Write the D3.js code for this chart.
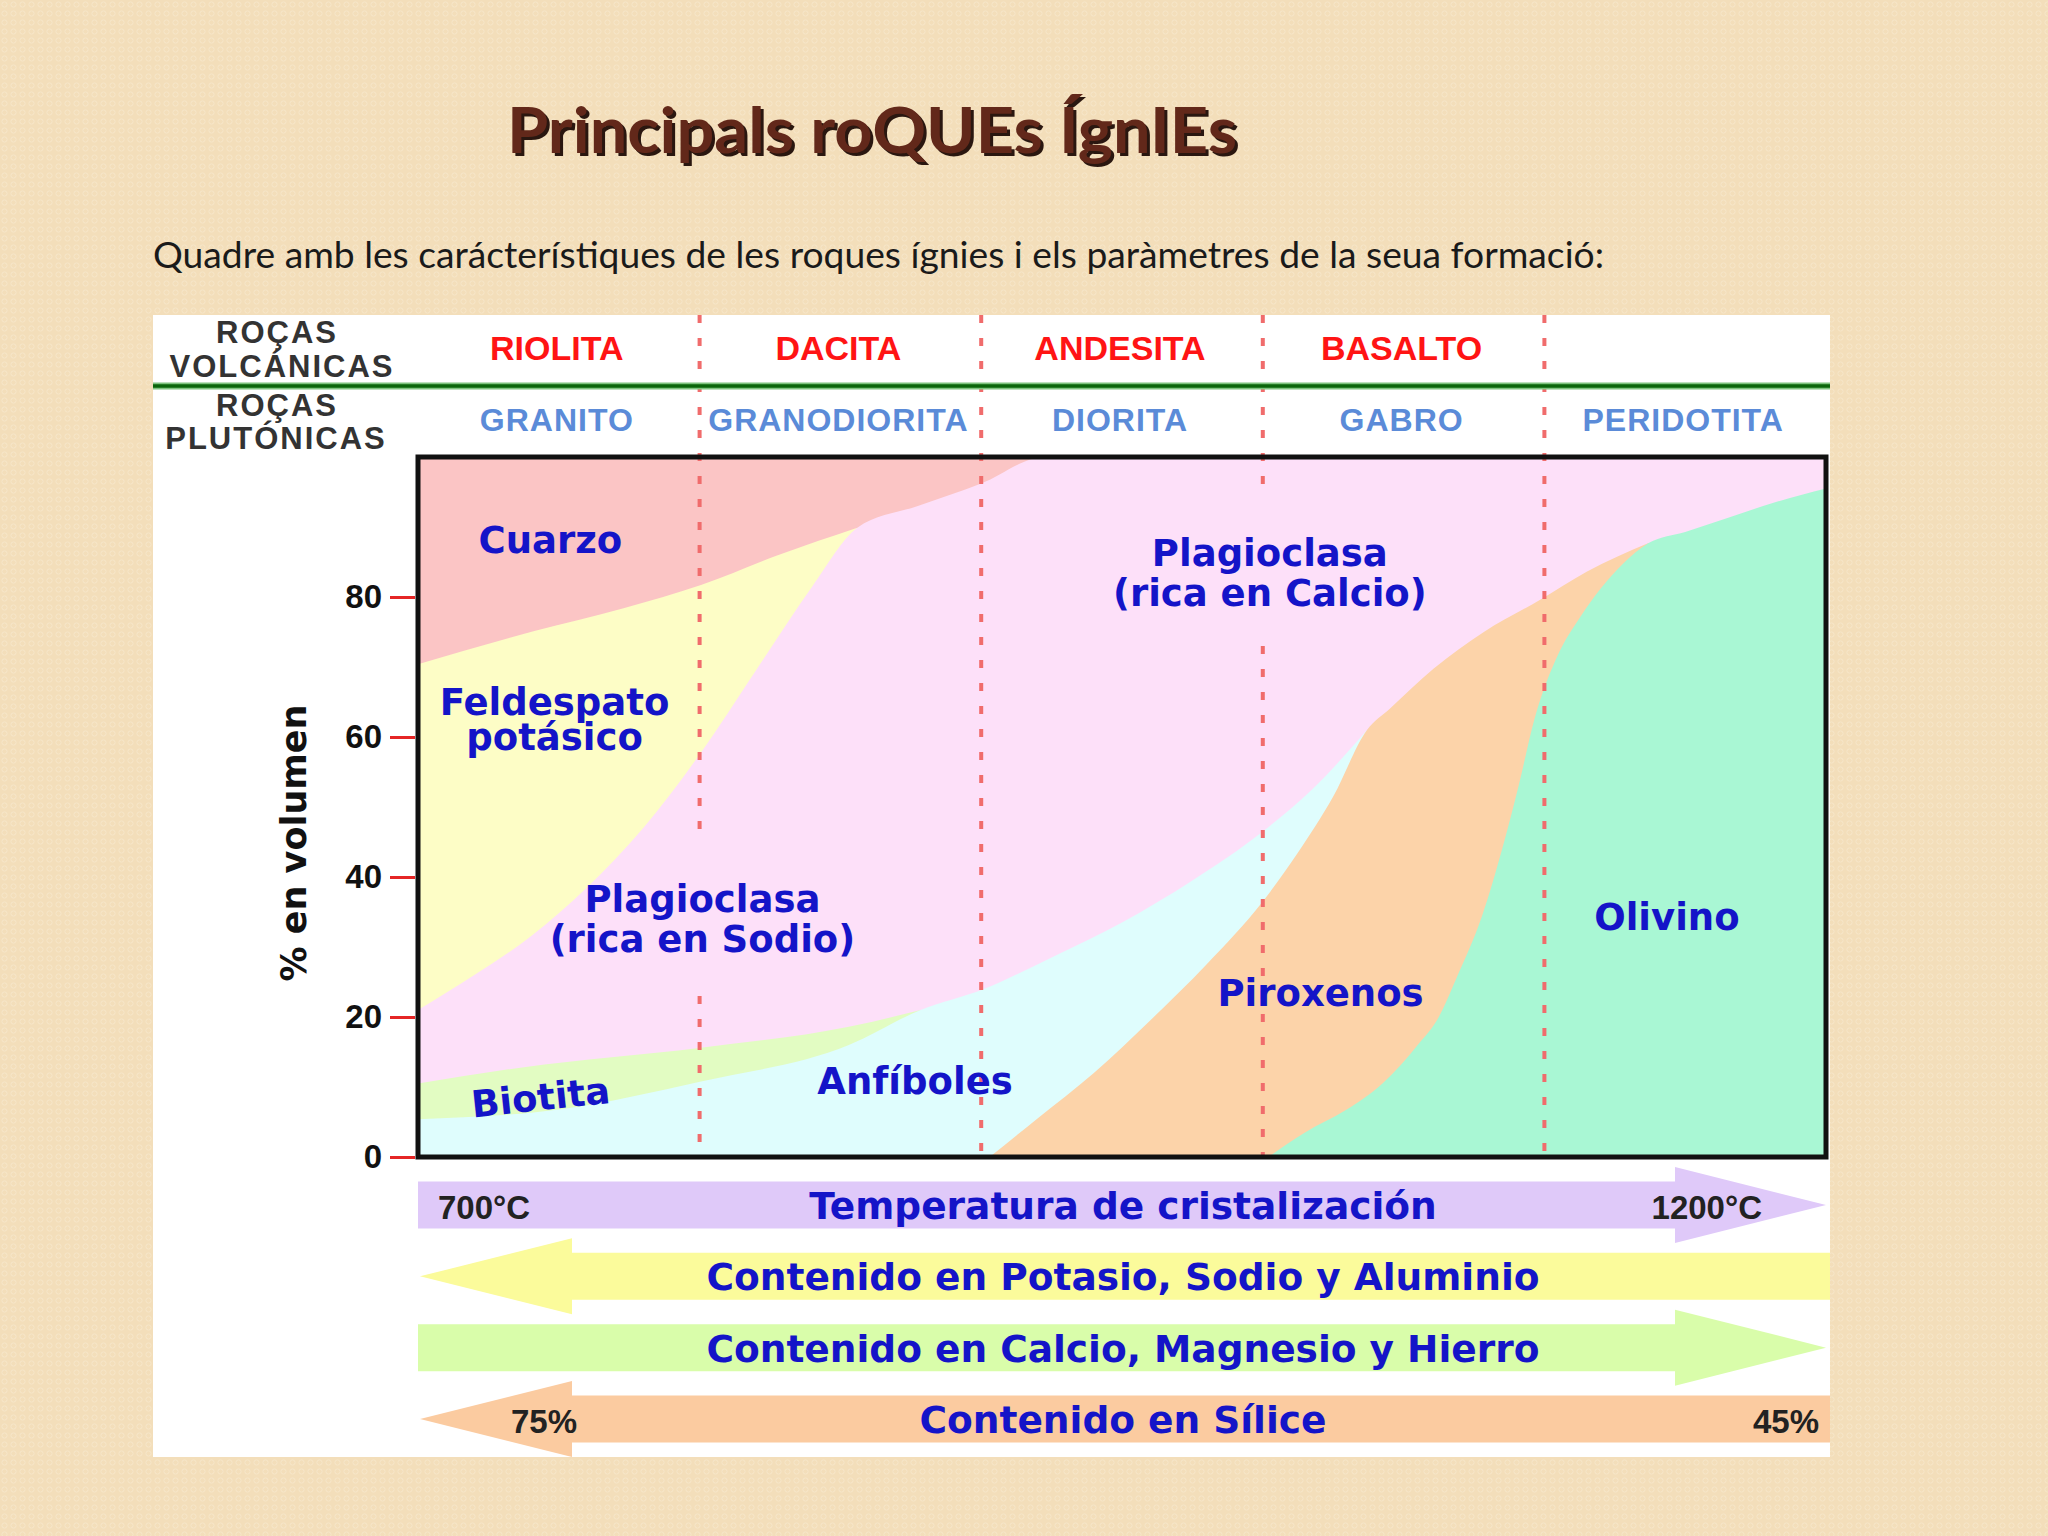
<!DOCTYPE html>
<meta charset="utf-8">
<style>
body { margin: 0; background: #f3deba; }
svg { display: block; }
.hed { font-family: Lato, 'Open Sans', sans-serif; font-weight: bold; font-size: 64px; }
.intro { font-family: Lato, 'Open Sans', sans-serif; font-size: 37px; fill: #1a1a1a; }
.rocas { font-family: 'Liberation Sans', Arial, sans-serif; font-weight: bold; font-size: 31px; fill: #333; letter-spacing: 2px; }
.volc { font-family: 'Liberation Sans', Arial, sans-serif; font-weight: bold; font-size: 34px; fill: #ff1414; }
.plut { font-family: 'Liberation Sans', Arial, sans-serif; font-weight: bold; font-size: 32px; fill: #5b8bd8; letter-spacing: 1px; }
.mineral { font-family: 'DejaVu Sans', Verdana, sans-serif; font-weight: bold; font-size: 37px; fill: #1414c8; }
.flecha { font-family: 'DejaVu Sans', Verdana, sans-serif; font-weight: bold; font-size: 37.5px; fill: #1414c8; }
.extremo { font-family: 'Liberation Sans', Arial, sans-serif; font-weight: bold; font-size: 33px; fill: #222; }
.axis text { font-family: 'Liberation Sans', Arial, sans-serif; font-weight: bold; font-size: 33px; fill: #111; }
.axis line { stroke: #e52626; stroke-width: 3px; }
.ylab { font-family: 'DejaVu Sans', Verdana, sans-serif; font-weight: bold; font-size: 35px; fill: #111; }
</style>
<body>
<div id="chart"></div>
<script src="https://cdnjs.cloudflare.com/ajax/libs/d3/7.8.5/d3.min.js"></script>
<script>

// ---- data ----
var titulo = "Principals roQUEs ÍgnIEs";
var subtitulo = "Quadre amb les carácterístiques de les roques ígnies i els paràmetres de la seua formació:";

var volcanicas = ["RIOLITA", "DACITA", "ANDESITA", "BASALTO", ""];
var plutonicas = ["GRANITO", "GRANODIORITA", "DIORITA", "GABRO", "PERIDOTITA"];
var yTicks = [0, 20, 40, 60, 80];

// upper edge of each mineral field, [x 0-100 across the columns, % en volumen]
var feldespatoTop = [[0, 70.4], [8.2, 75.1], [14.6, 78.4], [20.1, 81.7], [25.6, 86], [31.2, 89.9]];
var plagioclasaTop = [[0, 21], [4, 26], [8, 31.5], [12, 38.5], [16, 47], [20, 57.5], [24, 69.5], [28, 81.5],
  [31.2, 89.9], [35.5, 93], [40, 96.2], [44.5, 100], [100, 100]];
var biotitaTop = [[0, 10.5], [7.4, 12.8], [20.1, 15.6], [30.6, 18.6], [35.7, 21]];
var anfibolesTop = [[0, 5.4], [10, 6.8], [20.1, 10.8], [30.6, 16], [35.7, 21], [40.2, 24], [45, 28.5],
  [50, 33.5], [55, 39.5], [60, 46.5], [63.5, 52.5], [67.4, 61]];
var piroxenosTop = [[40.6, 0], [44, 5.5], [48, 12], [52, 19.5], [56, 27.5], [60, 36.5], [62.5, 43.5],
  [65, 51.5], [67.4, 61], [69, 64], [72.1, 69.7], [75.7, 75], [79.7, 79.6], [83, 83.6], [87.4, 87.7]];
var olivinoTop = [[60.4, 0], [63, 3.5], [65.9, 6.7], [68.5, 10.5], [71, 16], [72.5, 20], [73.7, 25.3],
  [75.6, 34.6], [77, 44], [78.2, 53.3], [79.3, 62.6], [81, 71.9], [82.5, 77], [84, 81.2], [85.6, 84.8],
  [87.4, 87.7], [90, 89.3], [93, 91.3], [96.5, 93.6], [100, 95.5]];

// mineral names and where they sit (chart units)
var minerales = [["Cuarzo"], ["Feldespato", "potásico"], ["Plagioclasa", "(rica en Sodio)"], ["Biotita"],
  ["Anfíboles"], ["Plagioclasa", "(rica en Calcio)"], ["Piroxenos"], ["Olivino"]];
var mineralPos = [[9.4, 86.3], [9.7, 63.2], [20.2, 35], [8.8, 6.7], [35.3, 9], [60.5, 84.4], [64.1, 21.6], [88.7, 32.4]];

// gaps in the dashed column lines (% en volumen)
var huecos = [[[23, 46]], [], [[73, 95]], []];

var flechas = ["Temperatura de cristalización", "Contenido en Potasio, Sodio y Aluminio",
  "Contenido en Calcio, Magnesio y Hierro", "Contenido en Sílice"];
var sentido = ["der", "izq", "der", "izq"];
var extremoIzq = ["700°C", "", "", "75%"];
var extremoDer = ["1200°C", "", "", "45%"];

// ---- colours ----
var colCuarzo = "#fbc5c5", colFeld = "#fdfdc6", colPlag = "#fde0f9", colBiot = "#e2fcc2",
    colAnf = "#dffdfd", colPirox = "#fcd3a9", colOliv = "#a9f7d4";
var colFlechas = ["#dfc9f9", "#fbfb9b", "#d9fdaa", "#fbcba0"];

var W = 2048, H = 1536;
var svg = d3.select("#chart").append("svg").attr("width", W).attr("height", H);

// background texture
var defs = svg.append("defs");
var pat = defs.append("pattern").attr("id", "tela").attr("width", 9).attr("height", 9)
  .attr("patternUnits", "userSpaceOnUse");
pat.append("rect").attr("width", 9).attr("height", 9).attr("fill", "#f3deba");
pat.append("circle").attr("cx", 4.5).attr("cy", 4.5).attr("r", 2.6)
  .attr("fill", "none").attr("stroke", "#f7e7c9").attr("stroke-width", 1);
svg.append("rect").attr("width", W).attr("height", H).attr("fill", "url(#tela)");

// title with shadow
svg.append("text").attr("class", "hed").attr("x", 510).attr("y", 156)
  .attr("textLength", 730).attr("lengthAdjust", "spacingAndGlyphs")
  .attr("fill", "#2a1710").text(titulo);
svg.append("text").attr("class", "hed").attr("x", 507).attr("y", 153)
  .attr("textLength", 730).attr("lengthAdjust", "spacingAndGlyphs")
  .attr("fill", "#62281a").text(titulo);

svg.append("text").attr("class", "intro").attr("x", 153).attr("y", 268)
  .attr("textLength", 1451).attr("lengthAdjust", "spacingAndGlyphs").text(subtitulo);

// white panel
svg.append("rect").attr("x", 153).attr("y", 315).attr("width", 1677).attr("height", 1142).attr("fill", "#fff");

// scales
var x = d3.scaleLinear().domain([0, 100]).range([418, 1826]);
var y = d3.scaleLinear().domain([0, 100]).range([1157, 457]);
var col = d3.scaleBand().domain(d3.range(5)).range([418, 1826]);

defs.append("clipPath").attr("id", "caja").append("rect")
  .attr("x", x(0)).attr("y", y(100)).attr("width", x(100) - x(0)).attr("height", y(0) - y(100));

var plot = svg.append("g").attr("clip-path", "url(#caja)");

plot.append("rect").attr("x", x(0)).attr("y", y(100)).attr("width", x(100) - x(0))
  .attr("height", y(0) - y(100)).attr("fill", colCuarzo);

var area = d3.area()
  .x(function(d) { return x(d[0]); })
  .y0(y(0))
  .y1(function(d) { return y(d[1]); })
  .curve(d3.curveMonotoneX);

var capas = [[feldespatoTop, colFeld], [plagioclasaTop, colPlag], [biotitaTop, colBiot],
  [anfibolesTop, colAnf], [piroxenosTop, colPirox], [olivinoTop, colOliv]];

plot.selectAll("path.capa")
  .data(capas)
  .enter().append("path")
  .attr("class", "capa")
  .attr("d", function(d) { return area(d[0]); })
  .attr("fill", function(d) { return d[1]; });

// dashed column dividers
var topPanel = 315;
d3.range(1, 5).forEach(function(i) {
  var xx = col(i);
  var g = huecos[i - 1].map(function(h) { return [y(h[1]), y(h[0])]; });
  var tramos = [];
  var start = topPanel;
  g.forEach(function(h) { tramos.push([start, h[0]]); start = h[1]; });
  tramos.push([start, y(0)]);
  tramos.forEach(function(t) {
    svg.append("line")
      .attr("x1", xx).attr("x2", xx).attr("y1", t[0]).attr("y2", t[1])
      .attr("stroke", "#f06c6c").attr("stroke-width", 4)
      .attr("stroke-dasharray", "8,15");
  });
});

// green separator
svg.append("line").attr("x1", 153).attr("x2", 1830).attr("y1", 386).attr("y2", 386)
  .attr("stroke", "#7dc27d").attr("stroke-width", 7);
svg.append("line").attr("x1", 153).attr("x2", 1830).attr("y1", 386).attr("y2", 386)
  .attr("stroke", "#0a650a").attr("stroke-width", 3.5);

// row headers
svg.append("text").attr("class", "rocas").attr("x", 277).attr("y", 343).attr("text-anchor", "middle").text("ROÇAS");
svg.append("text").attr("class", "rocas").attr("x", 282).attr("y", 377).attr("text-anchor", "middle").text("VOLCÁNICAS");
svg.append("text").attr("class", "rocas").attr("x", 277).attr("y", 416).attr("text-anchor", "middle").text("ROÇAS");
svg.append("text").attr("class", "rocas").attr("x", 276).attr("y", 449).attr("text-anchor", "middle").text("PLUTÓNICAS");

svg.selectAll("text.volc").data(volcanicas).enter().append("text")
  .attr("class", "volc")
  .attr("x", function(d, i) { return col(i) + col.bandwidth() / 2 - 2; })
  .attr("y", 360).attr("text-anchor", "middle")
  .text(function(d) { return d; });

svg.selectAll("text.plut").data(plutonicas).enter().append("text")
  .attr("class", "plut")
  .attr("x", function(d, i) { return col(i) + col.bandwidth() / 2 - 2; })
  .attr("y", 431).attr("text-anchor", "middle")
  .text(function(d) { return d; });

// mineral labels
minerales.forEach(function(lineas, i) {
  var p = mineralPos[i];
  var t = svg.append("text").attr("class", "mineral").attr("text-anchor", "middle")
    .attr("transform", "translate(" + x(p[0]) + "," + y(p[1]) + ")" + (lineas[0] == "Biotita" ? " rotate(-6)" : ""));
  lineas.forEach(function(l, j) {
    t.append("tspan").attr("x", 0).attr("y", j * (lineas[0] == "Feldespato" ? 35 : 40)).text(l);
  });
});

// plot frame
svg.append("rect").attr("x", x(0)).attr("y", y(100)).attr("width", x(100) - x(0))
  .attr("height", y(0) - y(100)).attr("fill", "none").attr("stroke", "#111").attr("stroke-width", 5);

// y axis
var yAxis = d3.axisLeft(y).tickValues(yTicks).tickSize(25).tickPadding(8);
var ax = svg.append("g").attr("class", "axis").attr("transform", "translate(" + (x(0) - 3) + ",0)").call(yAxis);
ax.select(".domain").remove();

svg.append("text").attr("class", "ylab")
  .attr("transform", "translate(306," + 843 + ") rotate(-90)")
  .attr("text-anchor", "middle").text("% en volumen");

// arrows
var fila = d3.scalePoint().domain(d3.range(4)).range([1205, 1419]);
var cuerpo = 23.5, cabeza = 38;
var linea = d3.line();

flechas.forEach(function(txt, i) {
  var cy = fila(i), pts;
  if (sentido[i] == "der") {
    var x0 = 418, xb = 1675, xt = 1826;
    pts = [[x0, cy - cuerpo], [xb, cy - cuerpo], [xb, cy - cabeza], [xt, cy], [xb, cy + cabeza], [xb, cy + cuerpo], [x0, cy + cuerpo]];
  } else {
    var x1 = 1830, xb2 = 572, xt2 = 420;
    pts = [[x1, cy - cuerpo], [xb2, cy - cuerpo], [xb2, cy - cabeza], [xt2, cy], [xb2, cy + cabeza], [xb2, cy + cuerpo], [x1, cy + cuerpo]];
  }
  svg.append("path").attr("d", linea(pts) + "Z").attr("fill", colFlechas[i]);
  svg.append("text").attr("class", "flecha").attr("x", 1123).attr("y", cy + 14)
    .attr("text-anchor", "middle").text(txt);
  if (extremoIzq[i]) {
    svg.append("text").attr("class", "extremo").attr("x", sentido[i] == "der" ? 438 : 511).attr("y", cy + 14).text(extremoIzq[i]);
  }
  if (extremoDer[i]) {
    svg.append("text").attr("class", "extremo").attr("x", sentido[i] == "der" ? 1762 : 1819).attr("y", cy + 14)
      .attr("text-anchor", "end").text(extremoDer[i]);
  }
});

</script>
</body>
